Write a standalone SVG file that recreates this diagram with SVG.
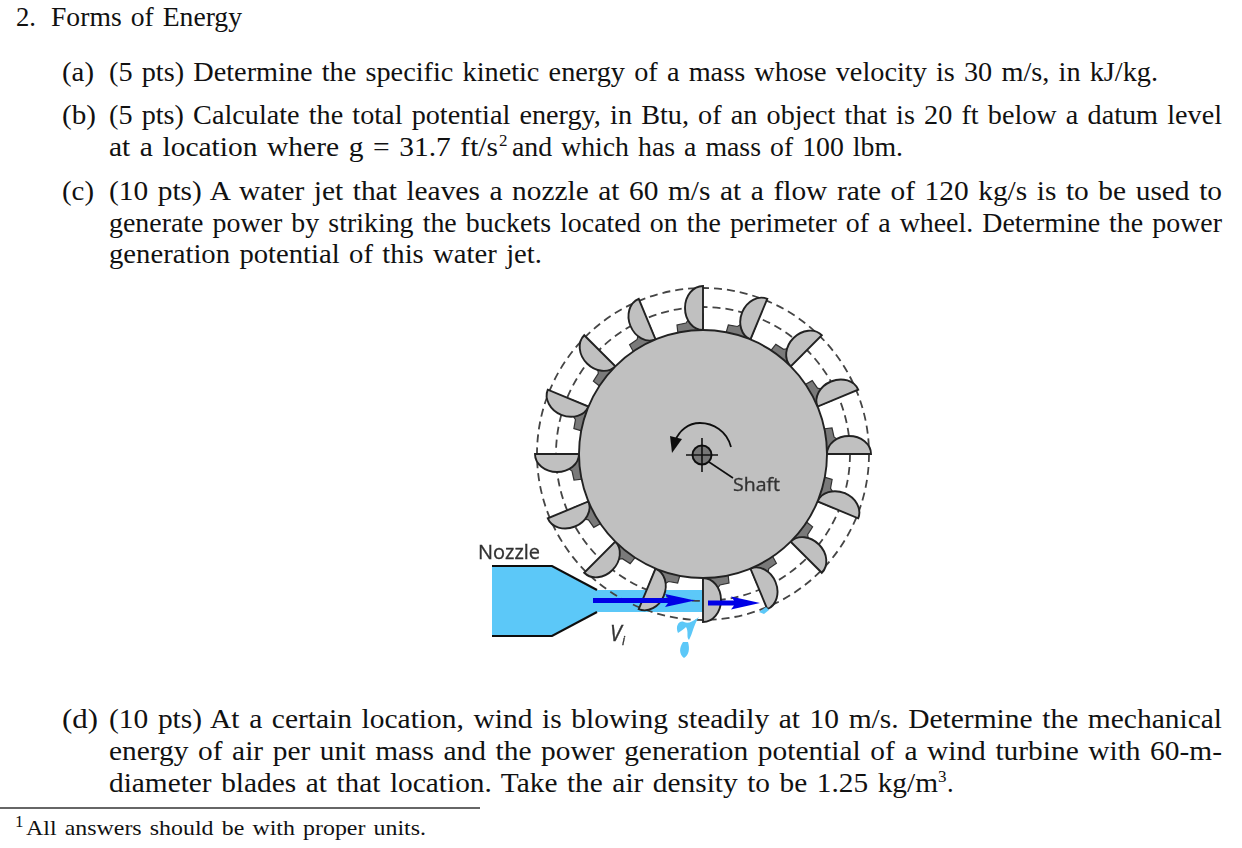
<svg xmlns="http://www.w3.org/2000/svg" xmlns:xlink="http://www.w3.org/1999/xlink" width="1242" height="848" viewBox="0 0 1242 848">
<style>
.t{font-family:"Liberation Serif","Times New Roman",serif;font-size:26.5px;fill:#111;word-spacing:2px}
.s{font-size:17px}
.f{font-size:22px}
.sans{font-family:"Open Sans","Liberation Sans",sans-serif;fill:#333;stroke:#333;stroke-width:.35}
.dash{fill:none;stroke:#444;stroke-width:1.8;stroke-dasharray:8 5}
.bucket{fill:#c0c0c0;stroke:#222;stroke-width:1.9}
.gusset{fill:#7a7a7a;stroke:#333;stroke-width:1.2}
.edge{stroke:#111;stroke-width:2.2;fill:none}
.water{fill:#5cc8f8}
.blue{fill:#0000e6}
</style>
<defs>
<filter id="soft" x="-5%" y="-5%" width="110%" height="110%"><feGaussianBlur stdDeviation="0.65"/></filter>
<g id="b">
<path class="gusset" d="M122 0L120 -25L129 -26L131 -17L138 -12L140 0Z"/>
<path class="bucket" d="M124 0A22 18 0 0 1 168 0Z"/>
</g>
</defs>
<rect width="1242" height="848" fill="#fff"/>
<g id="text" transform="translate(0 0.8)">
<text class="t" x="16" y="25" textLength="20" lengthAdjust="spacingAndGlyphs">2.</text>
<text class="t" x="51" y="25" textLength="191" lengthAdjust="spacingAndGlyphs">Forms of Energy</text>
<text class="t" x="62" y="80" textLength="32" lengthAdjust="spacingAndGlyphs">(a)</text>
<text class="t" x="109" y="80" textLength="1049" lengthAdjust="spacingAndGlyphs">(5 pts) Determine the specific kinetic energy of a mass whose velocity is 30 m/s, in kJ/kg.</text>
<text class="t" x="62" y="123" textLength="34" lengthAdjust="spacingAndGlyphs">(b)</text>
<text class="t" x="109" y="123" textLength="1113" lengthAdjust="spacingAndGlyphs">(5 pts) Calculate the total potential energy, in Btu, of an object that is 20 ft below a datum level</text>
<text class="t" x="109" y="155" textLength="389" lengthAdjust="spacingAndGlyphs">at a location where g = 31.7 ft/s</text>
<text class="t s" x="499" y="145">2</text>
<text class="t" x="512" y="155" textLength="391" lengthAdjust="spacingAndGlyphs">and which has a mass of 100 lbm.</text>
<text class="t" x="62" y="199" textLength="32" lengthAdjust="spacingAndGlyphs">(c)</text>
<text class="t" x="109" y="199" textLength="1113" lengthAdjust="spacingAndGlyphs">(10 pts) A water jet that leaves a nozzle at 60 m/s at a flow rate of 120 kg/s is to be used to</text>
<text class="t" x="109" y="231" textLength="1113" lengthAdjust="spacingAndGlyphs">generate power by striking the buckets located on the perimeter of a wheel. Determine the power</text>
<text class="t" x="109" y="262" textLength="433" lengthAdjust="spacingAndGlyphs">generation potential of this water jet.</text>
<text class="t" x="62" y="727" textLength="36" lengthAdjust="spacingAndGlyphs">(d)</text>
<text class="t" x="109" y="727" textLength="1113" lengthAdjust="spacingAndGlyphs">(10 pts) At a certain location, wind is blowing steadily at 10 m/s. Determine the mechanical</text>
<text class="t" x="109" y="759" textLength="1113" lengthAdjust="spacingAndGlyphs">energy of air per unit mass and the power generation potential of a wind turbine with 60-m-</text>
<text class="t" x="109" y="791" textLength="829" lengthAdjust="spacingAndGlyphs">diameter blades at that location. Take the air density to be 1.25 kg/m</text>
<text class="t s" x="938" y="781">3</text>
<text class="t" x="947" y="791">.</text>
<text class="t s" x="15" y="826">1</text>
<text class="t f" x="26" y="834" textLength="400" lengthAdjust="spacingAndGlyphs">All answers should be with proper units.</text>
</g>
<line id="footnote-rule" x1="0" y1="808" x2="480" y2="808" stroke="#333" stroke-width="1.5"/>
<g id="wheel-diagram" filter="url(#soft)">
<g id="nozzle">
<path class="water" d="M492 566H552L597 590H703V612H597L552 636H492Z"/>
<path class="edge" d="M492 566H552L597 590M597 612L552 636H492"/>
</g>
<g id="connectors">
<circle class="dash" cx="703" cy="454" r="166"/>
<circle class="dash" cx="703" cy="454" r="147"/>
</g>
<g id="buckets" transform="translate(703 454)">
<use xlink:href="#b" href="#b" transform="rotate(0)"/>
<use xlink:href="#b" href="#b" transform="rotate(22.5)"/>
<use xlink:href="#b" href="#b" transform="rotate(45)"/>
<use xlink:href="#b" href="#b" transform="rotate(67.5)"/>
<use xlink:href="#b" href="#b" transform="rotate(90)"/>
<use xlink:href="#b" href="#b" transform="rotate(112.5)"/>
<use xlink:href="#b" href="#b" transform="rotate(135)"/>
<use xlink:href="#b" href="#b" transform="rotate(157.5)"/>
<use xlink:href="#b" href="#b" transform="rotate(180)"/>
<use xlink:href="#b" href="#b" transform="rotate(202.5)"/>
<use xlink:href="#b" href="#b" transform="rotate(225)"/>
<use xlink:href="#b" href="#b" transform="rotate(247.5)"/>
<use xlink:href="#b" href="#b" transform="rotate(270)"/>
<use xlink:href="#b" href="#b" transform="rotate(292.5)"/>
<use xlink:href="#b" href="#b" transform="rotate(315)"/>
<use xlink:href="#b" href="#b" transform="rotate(337.5)"/>
</g>
<g id="wheel"><circle cx="703" cy="454" r="124" fill="#c0c0c0" stroke="#222" stroke-width="1.9"/></g>
<g id="shaft">
<path d="M731 447C727 431 713 423 700 423C688 423 679 431 675 441" fill="none" stroke="#111" stroke-width="1.8"/>
<path d="M670 436L682 439L672 453Z" fill="#111"/>
<circle cx="702" cy="455" r="9.5" fill="#777" stroke="#111" stroke-width="2"/>
<path d="M702 438V472M686 455H718M709 462L733 478" stroke="#111" stroke-width="1.6" fill="none"/>
<text class="sans" x="733" y="491" font-size="18.5" textLength="47" lengthAdjust="spacingAndGlyphs">Shaft</text>
</g>
<g id="jet">
<path class="blue" d="M593 598H668L665 594L695 600.5L665 607L668 603H593Z"/>
<path class="blue" d="M708 600.5H734L731 596.5L760 603L731 609.5L734 605.5H708Z"/>
<path class="water" d="M699 617C692 622 688 624 684 622C679 620 675 626 678 633C681 631 684 629 686 627C689 632 686 637 689 640C693 633 693 626 699 617ZM683 642C679 648 679 654 684 658C689 655 690 649 688 642Z"/>
<path class="water" d="M759 612L766 607L769 610L764 614Z"/>
</g>
<g id="labels">
<text class="sans" x="478" y="559" font-size="20" textLength="62" lengthAdjust="spacingAndGlyphs">Nozzle</text>
<text class="sans" x="610" y="641" font-size="21" font-style="italic">V</text>
<text class="sans" x="622" y="645" font-size="12" font-style="italic">i</text>
</g>
</g>
</svg>
